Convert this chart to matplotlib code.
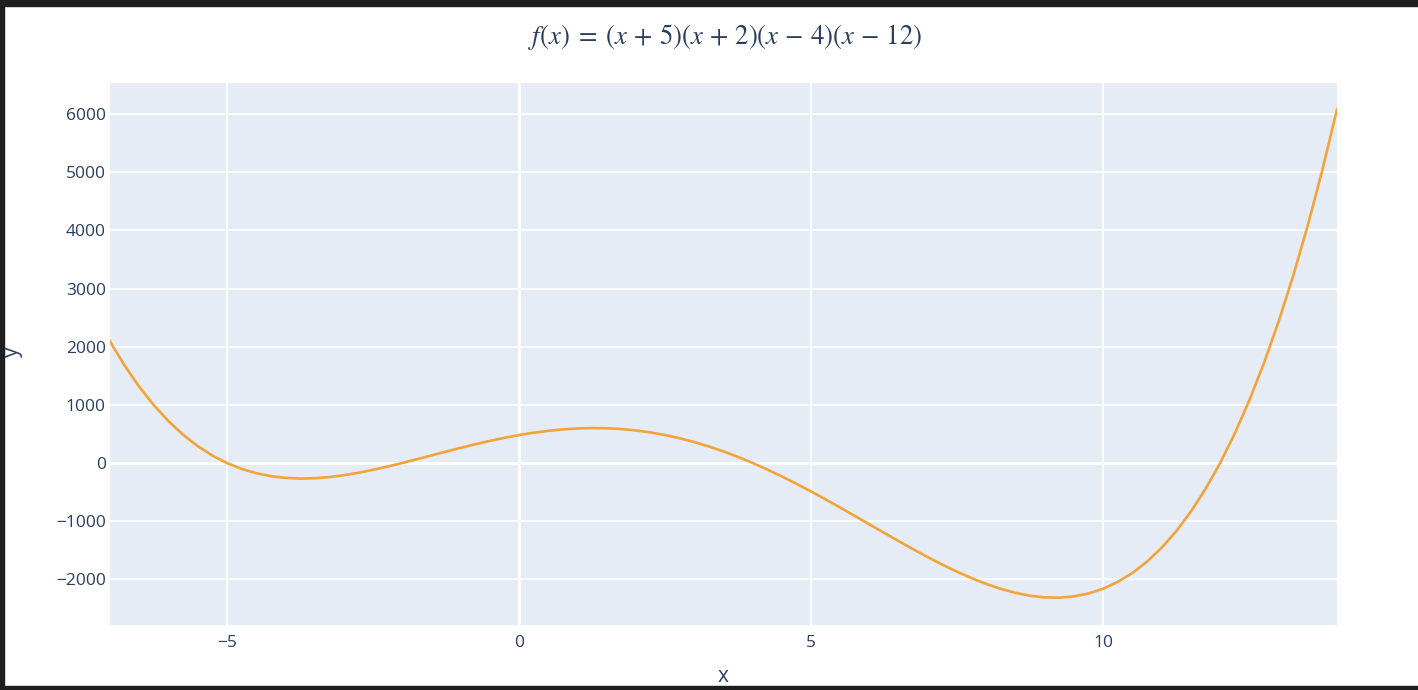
import matplotlib
matplotlib.use("Agg")
import matplotlib.pyplot as plt
from matplotlib.patches import Rectangle

x_vals = [-7, -6.75, -6.5, -6.25, -6, -5.75, -5.5, -5.25, -5, -4.75, -4.5, -4.25,
          -4, -3.75, -3.5, -3.25, -3, -2.75, -2.5, -2.25, -2, -1.75, -1.5, -1.25,
          -1, -0.75, -0.5, -0.25, 0, 0.25, 0.5, 0.75, 1, 1.25, 1.5, 1.75,
          2, 2.25, 2.5, 2.75, 3, 3.25, 3.5, 3.75, 4, 4.25, 4.5, 4.75,
          5, 5.25, 5.5, 5.75, 6, 6.25, 6.5, 6.75, 7, 7.25, 7.5, 7.75,
          8, 8.25, 8.5, 8.75, 9, 9.25, 9.5, 9.75, 10, 10.25, 10.5, 10.75,
          11, 11.25, 11.5, 11.75, 12, 12.25, 12.5, 12.75, 13, 13.25, 13.5, 13.75, 14]
y_vals = [2090, 1676, 1311, 994, 720, 487, 291, 130, 0, -101, -175, -226,
          -256, -267, -262, -242, -210, -168, -118, -61, 0, 64, 130, 196,
          260, 322, 380, 433, 480, 521, 553, 578, 594, 601, 597, 584,
          560, 526, 481, 426, 360, 284, 199, 104, 0, -112, -232, -358,
          -490, -627, -768, -911, -1056, -1201, -1344, -1484, -1620, -1749, -1870, -1981,
          -2080, -2165, -2233, -2282, -2310, -2315, -2293, -2242, -2160, -2043, -1889, -1694,
          -1456, -1171, -835, -446, 0, 507, 1078, 1718, 2430, 3218, 4086, 5039, 6080]

x_ticks = [-5, 0, 5, 10]
y_ticks = [-2000, -1000, 0, 1000, 2000, 3000, 4000, 5000, 6000]
title = r'$f(x)\;=\;(x\,+\,5)(x\,+\,2)(x\,-\,4)(x\,-\,12)$'

text_col = '#2a3f5f'
plt.rcParams['font.family'] = ['Open Sans', 'DejaVu Sans']
plt.rcParams['mathtext.fontset'] = 'stix'

fig = plt.figure(figsize=(14.18, 6.90), dpi=100)
ax = fig.add_axes([110 / 1418, 65 / 690, 1227 / 1418, 542 / 690])
ax.set_facecolor('#e5ecf6')

ax.plot(x_vals, y_vals, color='#f2a33a', lw=1.9, zorder=3)

ax.set_xlim(-7, 14)
ax.set_ylim(-2785, 6533)
ax.set_xticks(x_ticks)
ax.set_yticks(y_ticks)
ax.grid(True, color='white', lw=1.3, zorder=0)
ax.set_axisbelow(True)
ax.axhline(0, color='white', lw=2.2, zorder=1)
ax.axvline(0, color='white', lw=2.2, zorder=1)
for s in ax.spines.values():
    s.set_visible(False)
ax.tick_params(length=0, labelsize=12.5, colors=text_col)
ax.tick_params(axis='y', pad=3)
ax.tick_params(axis='x', pad=7)

fig.text(723 / 1418, 1 - 676 / 690, 'x', ha='center', va='center', fontsize=15,
         color=text_col, family=['Open Sans', 'DejaVu Sans'])
fig.text(12 / 1418, 1 - 352 / 690, 'y', ha='center', va='center', fontsize=15,
         color=text_col, rotation=90, family=['Open Sans', 'DejaVu Sans'])
fig.text(725 / 1418, 1 - 37 / 690, title, ha='center', va='center', fontsize=19.3, color=text_col)

# dark screenshot frame
fig.patches.append(Rectangle((0, 1 - 6 / 690), 1, 6 / 690, transform=fig.transFigure, color='#1e1e1e'))
fig.patches.append(Rectangle((0, 0), 4 / 1418, 1, transform=fig.transFigure, color='#1e1e1e'))
fig.patches.append(Rectangle((0, 0), 1, 4 / 690, transform=fig.transFigure, color='#1e1e1e'))

fig.savefig('out.png', dpi=100)
